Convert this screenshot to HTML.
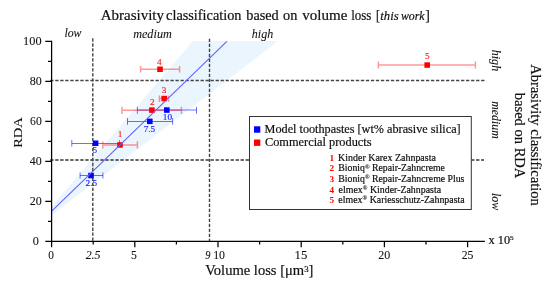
<!DOCTYPE html>
<html><head><meta charset="utf-8">
<style>
html,body{margin:0;padding:0;background:#fff;width:550px;height:285px;overflow:hidden}
svg{display:block;will-change:transform}
text{font-family:"Liberation Serif",serif}
.d{stroke:#111;stroke-width:0.2}
.t{stroke:#111;stroke-width:0.08}
</style></head>
<body>
<svg width="550" height="285" viewBox="0 0 550 285">

<polygon points="52,206 193,41 278,41 52,215" fill="#eaf5fd"/>
<g stroke="#444" stroke-width="1.4" fill="none">
<line x1="50.24" y1="80.5" x2="485" y2="80.5" stroke-dasharray="3.3 1.71"/>
<line x1="50.24" y1="160" x2="484" y2="160" stroke-dasharray="3.3 1.71" stroke="#333"/>
<line x1="92.8" y1="38.35" x2="92.8" y2="241" stroke-dasharray="3.3 1.68"/>
<line x1="209.5" y1="38.75" x2="209.5" y2="241" stroke-dasharray="3.3 1.7"/>
</g>
<g stroke="#0000ff" stroke-opacity="0.56" stroke-width="1" fill="none">
<path d="M80.1 175.5H102.9M80.1 172.4V178.6M102.9 172.4V178.6"/>
<path d="M71.8 143.5H119.6M71.8 140V146.6M119.6 140V146.6"/>
<path d="M127.5 121.5H172.6M127.5 118V124.8M172.6 118V124.8"/>
<path d="M137.4 110H196.5M137.4 106.8V113.8M196.5 106.8V113.8"/>
</g>
<g stroke="#ff0000" stroke-opacity="0.4" stroke-width="1.5" fill="none">
<path d="M102.8 145H137.4M102.8 141.5V148.6M137.4 141.3V148.6"/>
<path d="M122 110.2H181.4M122 106.8V114M181.4 106.8V114"/>
<path d="M159.4 98.4H168.5M159.4 95.6V101.9M168.5 95.6V101.9"/>
<path d="M140.6 69.2H179.6M140.6 65.9V72.4M179.6 65.9V72.4"/>
<path d="M378.4 64.9H475.4M378.4 61.4V68.6M475.4 61.4V68.6"/>
</g>
<g fill="#0000ff">
<rect x="88.2" y="172.8" width="5.6" height="5.5"/>
<rect x="92.8" y="140.5" width="5.6" height="5.5"/>
<rect x="147" y="118.6" width="5.6" height="5.5"/>
<rect x="164" y="107.3" width="5.6" height="5.5"/>
</g>
<g fill="#ff0000">
<rect x="117.2" y="142.2" width="5.6" height="5.5"/>
<rect x="149.1" y="107.4" width="5.6" height="5.5"/>
<rect x="161.4" y="95.8" width="5.6" height="5.5"/>
<rect x="157.2" y="66.5" width="5.6" height="5.5"/>
<rect x="424.4" y="62.3" width="5.6" height="5.5"/>
</g>
<line x1="52" y1="210.95" x2="226.9" y2="41.3" stroke="#5f5fff" stroke-width="1.05"/>
<g stroke="#000" stroke-width="1.25" fill="none">
<path d="M51.6 40.7V247.3M45.3 241.3H484.9"/>
<path d="M45.3 41.35H51.6M45.3 81.35H51.6M45.3 121.35H51.6M45.3 161.35H51.6M45.3 201.35H51.6"/>
<path d="M48 61.35H51.6M48 101.35H51.6M48 141.35H51.6M48 181.35H51.6M48 221.35H51.6"/>
<path d="M134.8 241V247.3M218 241V247.3M301.2 241V247.3M384.4 241V247.3M467.6 241V247.3"/>
<path d="M93.2 241V244.6M176.4 241V244.6M259.6 241V244.6M342.8 241V244.6M426 241V244.6"/>
</g>
<rect x="249.5" y="116.5" width="221.8" height="93" fill="#fff" stroke="#333" stroke-width="1"/>
<rect x="254" y="126.3" width="6.3" height="6.4" fill="#0000ff"/>
<rect x="254" y="139.5" width="6.3" height="6.4" fill="#ff0000"/>

<text id="t0" x="100.67" y="19.70" font-size="13.8" fill="#111" class="d" textLength="63.37" lengthAdjust="spacingAndGlyphs">Abrasivity</text>
<text id="t1" x="166.07" y="19.70" font-size="13.8" fill="#111" class="d" textLength="75.40" lengthAdjust="spacingAndGlyphs">classification</text>
<text id="t2" x="246.30" y="19.70" font-size="13.8" fill="#111" class="d" textLength="32.46" lengthAdjust="spacingAndGlyphs">based</text>
<text id="t3" x="283.00" y="19.70" font-size="13.8" fill="#111" class="d" textLength="14.30" lengthAdjust="spacingAndGlyphs">on</text>
<text id="t4" x="302.26" y="19.70" font-size="13.8" fill="#111" class="d" textLength="45.05" lengthAdjust="spacingAndGlyphs">volume</text>
<text id="t5" x="351.15" y="19.70" font-size="13.8" fill="#111" class="d" textLength="20.23" lengthAdjust="spacingAndGlyphs">loss</text>
<text id="t6" x="375.90" y="19.70" font-size="13.8" fill="#111" class="d" textLength="3.99" lengthAdjust="spacingAndGlyphs">[</text>
<text id="t7" x="380.32" y="19.70" font-size="12.6" fill="#111" font-style="italic" class="d" textLength="18.29" lengthAdjust="spacingAndGlyphs">this</text>
<text id="t8" x="400.90" y="19.70" font-size="12.6" fill="#111" font-style="italic" class="d" textLength="23.70" lengthAdjust="spacingAndGlyphs">work</text>
<text id="t9" x="425.35" y="19.70" font-size="13.8" fill="#111" class="d" textLength="4.62" lengthAdjust="spacingAndGlyphs">]</text>
<text id="rl1" x="64.39" y="37.40" font-size="12.8" fill="#111" font-style="italic" class="t" textLength="17.17" lengthAdjust="spacingAndGlyphs">low</text>
<text id="rl2" x="133.13" y="37.60" font-size="12.8" fill="#111" font-style="italic" class="t" textLength="38.69" lengthAdjust="spacingAndGlyphs">medium</text>
<text id="rl3" x="251.80" y="37.90" font-size="12.8" fill="#111" font-style="italic" class="t" textLength="21.35" lengthAdjust="spacingAndGlyphs">high</text>
<text id="y0" x="23.11" y="44.80" font-size="12.5" fill="#111" class="t" textLength="18.48" lengthAdjust="spacingAndGlyphs">100</text>
<text id="y1" x="29.68" y="84.90" font-size="12.5" fill="#111" class="t" textLength="12.04" lengthAdjust="spacingAndGlyphs">80</text>
<text id="y2" x="30.06" y="124.60" font-size="12.5" fill="#111" class="t" textLength="11.69" lengthAdjust="spacingAndGlyphs">60</text>
<text id="y3" x="29.80" y="165.20" font-size="12.5" fill="#111" class="t" textLength="11.94" lengthAdjust="spacingAndGlyphs">40</text>
<text id="y4" x="29.66" y="205.40" font-size="12.5" fill="#111" class="t" textLength="12.04" lengthAdjust="spacingAndGlyphs">20</text>
<text id="y5" x="32.80" y="244.50" font-size="12.5" fill="#111" class="t" textLength="6.12" lengthAdjust="spacingAndGlyphs">0</text>
<text id="x0" x="48.28" y="258.90" font-size="12.2" fill="#111" class="t" textLength="5.68" lengthAdjust="spacingAndGlyphs">0</text>
<text id="x1" x="85.64" y="258.90" font-size="12.2" fill="#111" font-style="italic" class="t" textLength="14.84" lengthAdjust="spacingAndGlyphs">2.5</text>
<text id="x2" x="131.05" y="258.90" font-size="12.2" fill="#111" class="t" textLength="5.85" lengthAdjust="spacingAndGlyphs">5</text>
<text id="x3" x="205.26" y="258.90" font-size="12.2" fill="#111" font-style="italic" class="t" textLength="5.21" lengthAdjust="spacingAndGlyphs">9</text>
<text id="x4" x="213.14" y="258.90" font-size="12.2" fill="#111" class="t" textLength="11.87" lengthAdjust="spacingAndGlyphs">10</text>
<text id="x5" x="294.57" y="258.90" font-size="12.2" fill="#111" class="t" textLength="12.72" lengthAdjust="spacingAndGlyphs">15</text>
<text id="x6" x="378.16" y="258.90" font-size="12.2" fill="#111" class="t" textLength="12.01" lengthAdjust="spacingAndGlyphs">20</text>
<text id="x7" x="461.67" y="258.90" font-size="12.2" fill="#111" class="t" textLength="11.74" lengthAdjust="spacingAndGlyphs">25</text>
<text id="xm" x="488.57" y="244.10" font-size="11.5" fill="#111" class="d" textLength="25.11" lengthAdjust="spacingAndGlyphs">x 10<tspan font-size="6.8" dy="-4.2">5</tspan></text>
<text id="xl" x="205.20" y="274.90" font-size="15" fill="#111" class="d" textLength="108.25" lengthAdjust="spacingAndGlyphs">Volume loss [μm<tspan font-size="9.2" dy="-2.7">3</tspan><tspan dy="2.7">]</tspan></text>
<text id="yl" transform="translate(22.40 147.86) rotate(-90)" x="0" y="0" font-size="13.4" fill="#111" class="t" textLength="30.57" lengthAdjust="spacingAndGlyphs">RDA</text>
<text id="rr1" transform="translate(492.30 49.68) rotate(90)" x="0" y="0" font-size="12.8" fill="#111" font-style="italic" class="t" textLength="21.58" lengthAdjust="spacingAndGlyphs">high</text>
<text id="rr2" transform="translate(491.90 101.28) rotate(90)" x="0" y="0" font-size="12.8" fill="#111" font-style="italic" class="t" textLength="37.54" lengthAdjust="spacingAndGlyphs">medium</text>
<text id="rr3" transform="translate(491.90 192.89) rotate(90)" x="0" y="0" font-size="12.8" fill="#111" font-style="italic" class="t" textLength="17.53" lengthAdjust="spacingAndGlyphs">low</text>
<text id="rt1" transform="translate(531.40 64.23) rotate(90)" x="0" y="0" font-size="15.0" fill="#111" class="d" textLength="141.62" lengthAdjust="spacingAndGlyphs">Abrasivity classification</text>
<text id="rt2" transform="translate(515.10 92.81) rotate(90)" x="0" y="0" font-size="15.0" fill="#111" class="d" textLength="85.52" lengthAdjust="spacingAndGlyphs">based on RDA</text>
<text id="p0" x="91.30" y="185.60" font-size="9.2" fill="#1a1aff" text-anchor="middle" stroke="#1a1aff" stroke-width="0.15">2.5</text>
<text id="p1" x="94.90" y="153.30" font-size="9.2" fill="#1a1aff" text-anchor="middle" stroke="#1a1aff" stroke-width="0.15">5</text>
<text id="p2" x="149.40" y="132.40" font-size="9.2" fill="#1a1aff" text-anchor="middle" stroke="#1a1aff" stroke-width="0.15">7.5</text>
<text id="p3" x="167.40" y="119.80" font-size="9.2" fill="#1a1aff" text-anchor="middle" stroke="#1a1aff" stroke-width="0.15">10</text>
<text id="p4" x="120.00" y="136.80" font-size="9.2" fill="#ff1a1a" text-anchor="middle" stroke="#ff1a1a" stroke-width="0.15">1</text>
<text id="p5" x="152.30" y="104.90" font-size="9.2" fill="#ff1a1a" text-anchor="middle" stroke="#ff1a1a" stroke-width="0.15">2</text>
<text id="p6" x="164.10" y="93.10" font-size="9.2" fill="#ff1a1a" text-anchor="middle" stroke="#ff1a1a" stroke-width="0.15">3</text>
<text id="p7" x="159.40" y="64.80" font-size="9.2" fill="#ff1a1a" text-anchor="middle" stroke="#ff1a1a" stroke-width="0.15">4</text>
<text id="p8" x="427.40" y="59.00" font-size="9.2" fill="#ff1a1a" text-anchor="middle" stroke="#ff1a1a" stroke-width="0.15">5</text>
<text id="lg1" x="264.55" y="132.80" font-size="12.7" fill="#111" class="d" textLength="196.11" lengthAdjust="spacingAndGlyphs">Model toothpastes [wt% abrasive silica]</text>
<text id="lg2" x="264.98" y="145.90" font-size="12.7" fill="#111" class="d" textLength="106.61" lengthAdjust="spacingAndGlyphs">Commercial products</text>
<text id="ln0" x="331.80" y="160.70" font-size="9.2" fill="#ff0000" text-anchor="middle" font-weight="bold">1</text>
<text id="ln1" x="331.80" y="171.30" font-size="9.2" fill="#ff0000" text-anchor="middle" font-weight="bold">2</text>
<text id="ln2" x="331.80" y="181.80" font-size="9.2" fill="#ff0000" text-anchor="middle" font-weight="bold">3</text>
<text id="ln3" x="331.80" y="192.60" font-size="9.2" fill="#ff0000" text-anchor="middle" font-weight="bold">4</text>
<text id="ln4" x="331.80" y="202.80" font-size="9.2" fill="#ff0000" text-anchor="middle" font-weight="bold">5</text>
<text id="lt0" x="338.12" y="160.60" font-size="9.6" fill="#111" class="d" textLength="97.72" lengthAdjust="spacingAndGlyphs">Kinder Karex Zahnpasta</text>
<text id="lt1" x="338.32" y="171.20" font-size="9.6" fill="#111" class="d" textLength="106.63" lengthAdjust="spacingAndGlyphs">Bioniq<tspan font-size="6" dy="-2.6" style="stroke-width:0.1">®</tspan><tspan dy="2.6"> Repair-Zahncreme</tspan></text>
<text id="lt2" x="338.31" y="181.70" font-size="9.6" fill="#111" class="d" textLength="126.08" lengthAdjust="spacingAndGlyphs">Bioniq<tspan font-size="6" dy="-2.6" style="stroke-width:0.1">®</tspan><tspan dy="2.6"> Repair-Zahncreme Plus</tspan></text>
<text id="lt3" x="338.59" y="192.50" font-size="9.6" fill="#111" class="d" textLength="102.46" lengthAdjust="spacingAndGlyphs">elmex<tspan font-size="6" dy="-2.6" style="stroke-width:0.1">®</tspan><tspan dy="2.6"> Kinder-Zahnpasta</tspan></text>
<text id="lt4" x="338.35" y="202.70" font-size="9.6" fill="#111" class="d" textLength="126.31" lengthAdjust="spacingAndGlyphs">elmex<tspan font-size="6" dy="-2.6" style="stroke-width:0.1">®</tspan><tspan dy="2.6"> Kariesschutz-Zahnpasta</tspan></text>
</svg>
</body></html>
